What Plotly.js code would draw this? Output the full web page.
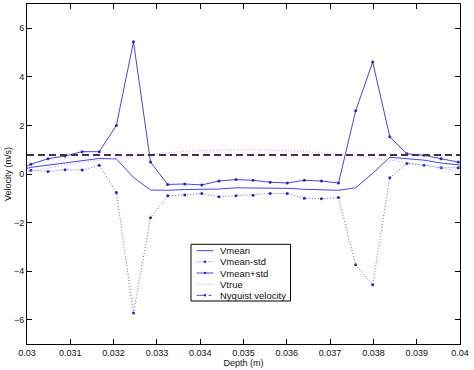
<!DOCTYPE html>
<html><head><meta charset="utf-8">
<script src="https://cdn.plot.ly/plotly-3.0.1.min.js"></script>
<style>html,body{margin:0;padding:0;background:#fff}#chart{width:474px;height:370px}</style>
</head><body><div id="chart"></div>
<script>
// ---- data ----
const depth = [0.029695, 0.030090, 0.030485, 0.030879, 0.031274, 0.031669, 0.032064, 0.032459,
  0.032853, 0.033248, 0.033643, 0.034037, 0.034432, 0.034827, 0.035221, 0.035616, 0.036011,
  0.036405, 0.036800, 0.037195, 0.037590, 0.037984, 0.038379, 0.038774, 0.039168, 0.039563,
  0.039958, 0.040352];
const vMean  = [0.10, 0.275, 0.365, 0.46, 0.54, 0.64, 0.62, -0.14, -0.66, -0.67, -0.64, -0.63,
  -0.62, -0.57, -0.57, -0.57, -0.59, -0.63, -0.66, -0.67, -0.57, 0.03, 0.69, 0.63, 0.57, 0.45, 0.38, 0.10];
const vMinus = [0.10, 0.15, 0.10, 0.18, 0.16, 0.36, -0.76, -5.72, -1.80, -0.90, -0.86, -0.80,
  -0.94, -0.90, -0.87, -0.80, -0.80, -1.00, -1.02, -0.97, -3.74, -4.56, -0.15, 0.43, 0.36, 0.26, 0.26, 0.10];
const vPlus  = [0.10, 0.40, 0.63, 0.74, 0.92, 0.92, 2.00, 5.45, 0.49, -0.43, -0.41, -0.45,
  -0.29, -0.23, -0.26, -0.34, -0.37, -0.26, -0.29, -0.37, 2.60, 4.61, 1.53, 0.83, 0.77, 0.63, 0.49, 0.10];
const vTrue  = [0.00, 0.13, 0.25, 0.37, 0.48, 0.58, 0.67, 0.75, 0.82, 0.88, 0.93, 0.96, 0.99,
  1.00, 1.00, 0.99, 0.96, 0.93, 0.88, 0.82, 0.75, 0.67, 0.58, 0.48, 0.37, 0.25, 0.13, 0.00];
const nyqDepth = [0.03, 0.04];
const vNyq = [0.78, 0.78];
const xTicks = [0.03, 0.031, 0.032, 0.033, 0.034, 0.035, 0.036, 0.037, 0.038, 0.039, 0.04];
const xTickText = ['0.03','0.031','0.032','0.033','0.034','0.035','0.036','0.037','0.038','0.039','0.04'];
const yTicks = [-6, -4, -2, 0, 2, 4, 6];
const seriesNames = ['Vmean', 'Vmean-std', 'Vmean+std', 'Vtrue', 'Nyquist velocity'];

// ---- styles ----
const BLUE = 'rgb(70,70,225)';
const BLUE_DOT = 'rgb(95,95,232)';
const MARK = 'rgb(40,40,190)';
const TRUEC = 'rgb(185,160,235)';
const NYQC = 'rgb(78,45,85)';
const FONT = 'Liberation Sans, Arial, sans-serif';
const DOTS = '1px,2px';

const traces = [
  {x: depth, y: vMean, mode: 'lines', line: {color: BLUE, width: 1}, name: seriesNames[0]},
  {x: depth, y: vMinus, mode: 'lines+markers', line: {color: BLUE_DOT, width: 1, dash: DOTS},
   marker: {color: MARK, size: 3}, name: seriesNames[1]},
  {x: depth, y: vPlus, mode: 'lines+markers', line: {color: BLUE, width: 1},
   marker: {color: MARK, size: 3}, name: seriesNames[2]},
  {x: depth, y: vTrue, mode: 'lines', line: {color: TRUEC, width: 1, dash: DOTS}, name: seriesNames[3]},
  {x: nyqDepth, y: vNyq, mode: 'lines', line: {color: NYQC, width: 2, dash: '7px,4px'}, name: seriesNames[4]}
];

// ---- manual legend (pixel layout -> paper coords) ----
const PL = 27, PR = 460, PT = 4, PB = 344;
const fx = p => (p - PL) / (PR - PL);
const fy = p => (PB - p) / (PB - PT);
const rowY = [250.7, 261.7, 273.0, 284.3, 295.3];
const sampleStyles = [
  {color: BLUE, dash: 'solid', mark: false},
  {color: BLUE_DOT, dash: DOTS, mark: true},
  {color: BLUE, dash: 'solid', mark: true},
  {color: TRUEC, dash: DOTS, mark: false},
  {color: BLUE, dash: 'dashdot', mark: true}
];
const shapes = [{type: 'rect', xref: 'paper', yref: 'paper', x0: fx(191), x1: fx(290.5), y0: fy(301), y1: fy(244.3),
  line: {color: '#000', width: 1}, fillcolor: '#fff', layer: 'above'}];
const annotations = [];
rowY.forEach((ry, i) => {
  const s = sampleStyles[i];
  shapes.push({type: 'line', xref: 'paper', yref: 'paper', x0: fx(196.5), x1: fx(213.5), y0: fy(ry), y1: fy(ry),
    line: {color: s.color, width: 1, dash: s.dash}, layer: 'above'});
  if (s.mark) shapes.push({type: 'circle', xref: 'paper', yref: 'paper', x0: fx(203.8), x1: fx(206.2),
    y0: fy(ry + 1.2), y1: fy(ry - 1.2), line: {color: MARK, width: 0}, fillcolor: MARK, layer: 'above'});
  annotations.push({xref: 'paper', yref: 'paper', x: fx(217.5), y: fy(ry), xanchor: 'left', yanchor: 'middle',
    text: seriesNames[i], showarrow: false, font: {family: FONT, size: 9.5, color: '#111'}});
});

const axisCommon = {showline: true, linecolor: '#000', linewidth: 1, mirror: 'ticks', ticks: 'inside',
  ticklen: 5, tickcolor: '#000', showgrid: false, zeroline: false,
  tickfont: {family: FONT, size: 9, color: '#111'}};

const layout = {
  width: 474, height: 370,
  margin: {l: PL, r: 474 - PR, t: PT, b: 370 - PB},
  paper_bgcolor: '#fff', plot_bgcolor: '#fff',
  showlegend: false,
  font: {family: FONT, size: 9, color: '#111'},
  xaxis: Object.assign({}, axisCommon, {range: [0.03, 0.04], tickvals: xTicks, ticktext: xTickText,
    title: {text: 'Depth (m)', font: {family: FONT, size: 9, color: '#111'}, standoff: 0}}),
  yaxis: Object.assign({}, axisCommon, {range: [-7, 7], tickvals: yTicks,
    title: {text: 'Velocity (m/s)', font: {family: FONT, size: 9, color: '#111'}, standoff: 0}}),
  shapes: shapes,
  annotations: annotations
};

Plotly.newPlot('chart', traces, layout, {staticPlot: true, displayModeBar: false});
</script></body></html>
